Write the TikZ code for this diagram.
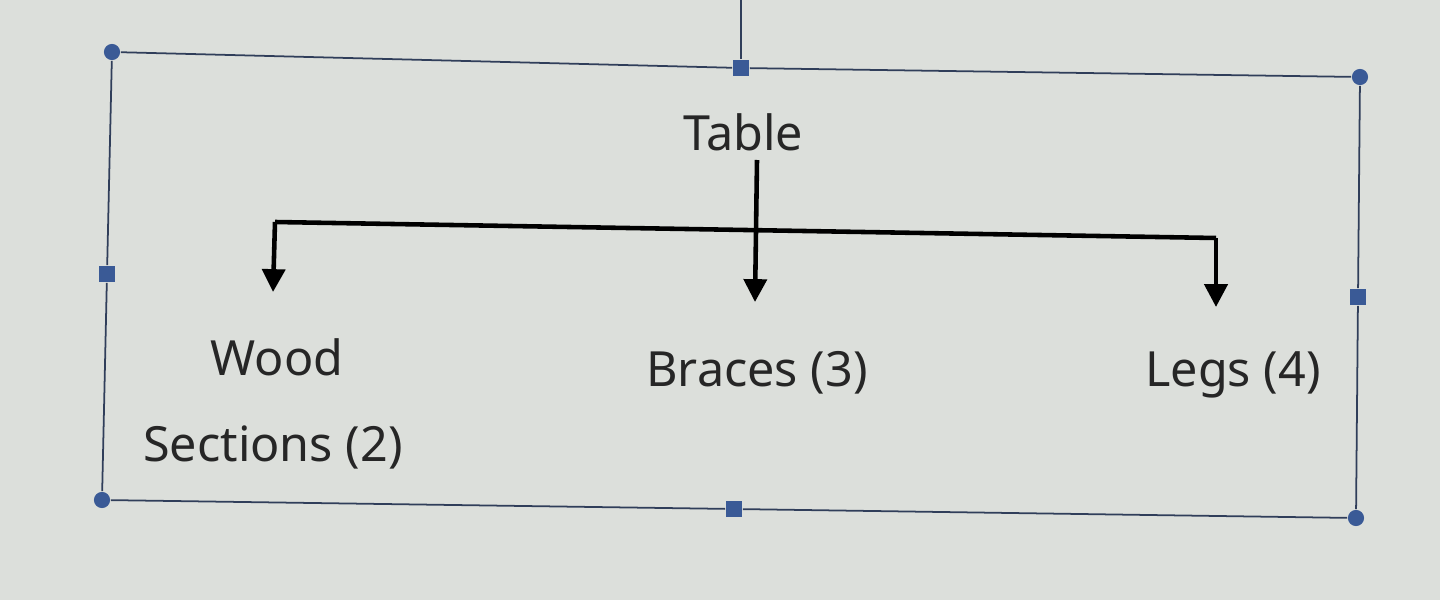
\documentclass[tikz,border=0pt]{standalone}
\usepackage{fontspec}
\setmainfont{Noto Sans}
\usetikzlibrary{arrows.meta}
\definecolor{screen}{RGB}{220,223,219}
\definecolor{frame}{RGB}{48,62,90}
\definecolor{handle}{RGB}{58,90,150}
\tikzset{
  lbl/.style={font=\fontsize{13.8}{17}\selectfont, text=black!85, inner sep=0pt},
  arr/.style={line width=1.3pt, -{Triangle[width=6.5pt,length=6.5pt]}},
  bar/.style={line width=1.3pt},
  sel/.style={draw=frame, line width=0.5pt},
  corner/.style={circle, fill=handle, inner sep=0pt, minimum size=4.6pt},
  mid/.style={rectangle, fill=handle, inner sep=0pt, minimum size=4.6pt}
}
\begin{document}
\begin{tikzpicture}
\fill[screen] (0,0) rectangle (14.4,6);
\useasboundingbox (0,0) rectangle (14.4,6);

% selection frame
\node[corner] (tl) at (1.12,5.48) {};
\node[corner] (tr) at (13.60,5.23) {};
\node[corner] (br) at (13.56,0.82) {};
\node[corner] (bl) at (1.02,1.00) {};
\node[mid] (tm) at (7.41,5.32) {};
\node[mid] (rm) at (13.58,3.03) {};
\node[mid] (bm) at (7.34,0.91) {};
\node[mid] (lm) at (1.07,3.26) {};
\coordinate (top) at (7.41,6);
\draw[sel] (tl) -- (tm) -- (tr) -- (rm) -- (br) -- (bm) -- (bl) -- (lm) -- (tl);
\draw[sel] (tm) -- (top);

% tree
\node[lbl] (table) at (7.43,4.68) {Table};
\node[lbl] (wood) at (2.77,2.43) {Wood};
\node[lbl] (sections) at (2.73,1.53) {Sections (2)};
\node[lbl] (braces) at (7.57,2.27) {Braces (3)};
\node[lbl] (legs) at (12.33,2.25) {Legs (4)};

\coordinate (barL) at (2.75,3.78);
\coordinate (barR) at (12.16,3.62);
\coordinate (stem) at (7.57,4.40);
\coordinate (tipW) at (2.73,3.08);
\coordinate (tipB) at (7.55,2.98);
\coordinate (tipL) at (12.16,2.93);

\draw[bar] (barL) -- (barR);
\draw[arr] (barL) -- (tipW);
\draw[arr] (stem) -- (tipB);
\draw[arr] (barR) -- (tipL);

\end{tikzpicture}
\end{document}
